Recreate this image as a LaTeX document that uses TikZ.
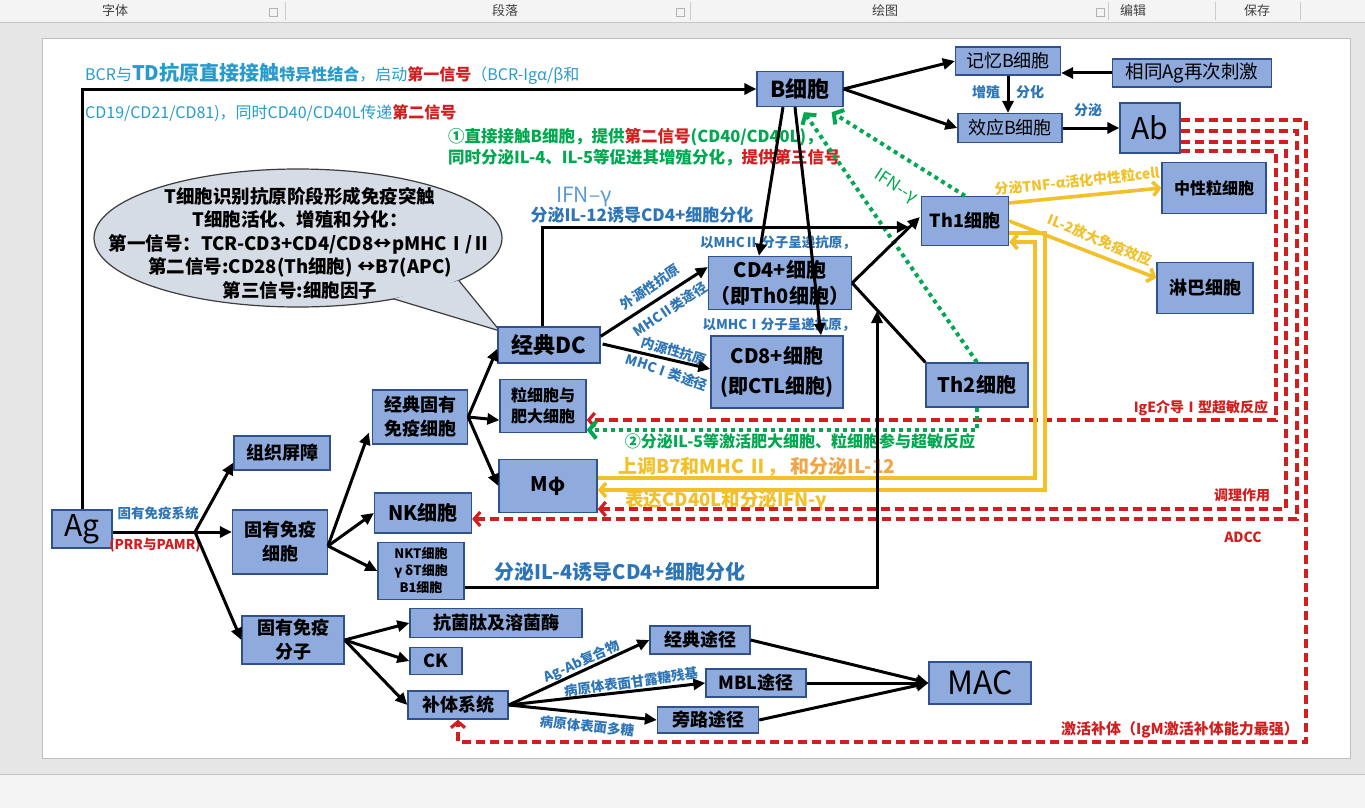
\documentclass[tikz,border=0pt]{standalone}
\usepackage{fontspec}
\setmainfont{Noto Sans CJK SC}
\usetikzlibrary{arrows.meta,shapes.geometric,calc}

\definecolor{cellfill}{RGB}{143,170,220}
\definecolor{cellline}{RGB}{47,82,143}
\definecolor{bubblefill}{RGB}{214,220,229}
\definecolor{bubbleline}{RGB}{60,60,60}
\definecolor{lblue}{RGB}{46,117,182}
\definecolor{skyblue}{RGB}{91,155,213}
\definecolor{cyanblue}{RGB}{40,155,205}
\definecolor{sigred}{RGB}{210,30,30}
\definecolor{sigreen}{RGB}{0,168,80}
\definecolor{gold}{RGB}{242,192,40}
\definecolor{amber}{RGB}{240,165,70}
\definecolor{uigray}{RGB}{230,230,230}
\definecolor{uibar}{RGB}{244,244,244}

\newcommand\fsz[2]{\fontsize{#1}{#2}\selectfont}

\tikzset{
  cell/.style={draw=cellline, fill=cellfill, line width=1.3pt, inner sep=0pt,
    align=center, font=\bfseries\fsz{18}{24}},
  link/.style={line width=3pt, -{Triangle[length=12pt,width=11pt]}},
  bar/.style={line width=3pt},
  yarrow/.style={draw=gold, line width=3.6pt, -{Straight Barb[length=6pt,width=14pt]}},
  rarrow/.style={draw=sigred, line width=3.2pt, dash pattern=on 9pt off 5pt,
    -{Straight Barb[length=6pt,width=14pt]}},
  garrow/.style={draw=sigreen, line width=4pt, dash pattern=on 4pt off 4pt,
    -{Straight Barb[length=7pt,width=17pt]}},
  bluetag/.style={text=lblue, font=\bfseries\fsz{13.5}{16}, inner sep=0pt},
  redtag/.style={text=sigred, font=\bfseries\fsz{14}{16}, inner sep=0pt},
  greentag/.style={text=sigreen, font=\bfseries\fsz{16.5}{20}, inner sep=0pt},
  goldtag/.style={text=gold, font=\bfseries\fsz{14}{16}, inner sep=0pt},
}

\begin{document}
\begin{tikzpicture}[x=1pt,y=-1pt]
\useasboundingbox (0,0) rectangle (1365,808);
% window around the slide
\fill[uigray] (0,0) rectangle (1365,808);
\fill[uibar] (0,0) rectangle (1365,22);
\draw[gray!45] (0,22) -- (1365,22);
\fill[uibar] (0,774) rectangle (1365,808);
\draw[gray!45] (0,774) -- (1365,774);
\foreach \xs in {285,690,1108,1215,1300} \draw[gray!40] (\xs,2) -- (\xs,20);
\foreach \xs in {273,680,1100} \draw[gray!60, line width=0.6pt] (\xs-4,8) rectangle (\xs+4,16);
\foreach \xs/\word in {115/字体,505/段落,885/绘图,1133/编辑,1257/保存}
  \node[font=\fsz{13}{14}, text=black!75] (tab\xs) at (\xs,11) {\word};
\filldraw[fill=white, draw=gray!50] (42,38) rectangle (1350,758);

% callout
\node[ellipse, draw=bubbleline, fill=bubblefill, line width=1.2pt,
  minimum width=408pt, minimum height=138pt] (callout) at (298,238) {};
\coordinate (tailA) at (458.8,280.5);
\coordinate (tailB) at (393.8,298.9);
\coordinate (tailtip) at (500,331);
\fill[bubblefill] (tailA) -- (tailtip) -- (tailB) -- cycle;
\draw[bubbleline, line width=1.2pt] (tailA) -- (tailtip) -- (tailB);
\node[align=center, font=\bfseries\fsz{18.5}{23.5}] (calltext) at (300,243)
  {T细胞识别抗原阶段形成免疫突触\\T细胞活化、增殖和分化：\\第一信号：TCR-CD3+CD4/CD8↔pMHCⅠ/Ⅱ\\第二信号:CD28(Th细胞) ↔B7(APC)\\第三信号:细胞因子};

% boxes
\node[cell, minimum width=60pt, minimum height=38pt, font=\fsz{30}{30}] (ag) at (82,529) {Ag};
\node[cell, minimum width=96pt, minimum height=34pt] (barrier) at (282,453) {组织屏障};
\node[cell, minimum width=95pt, minimum height=64pt] (innatecell) at (280,542) {固有免疫\\细胞};
\node[cell, minimum width=102pt, minimum height=48pt] (innatemol) at (293,640) {固有免疫\\分子};
\node[cell, minimum width=95pt, minimum height=54pt] (classic) at (420,417) {经典固有\\免疫细胞};
\node[cell, minimum width=97pt, minimum height=40pt, font=\bfseries\fsz{20}{24}] (nk) at (423,513) {NK细胞};
\node[cell, minimum width=86pt, minimum height=57pt, font=\bfseries\fsz{13}{17}] (nkt) at (421,571) {NKT细胞\\γ δT细胞\\B1细胞};
\node[cell, minimum width=102pt, minimum height=36pt, font=\bfseries\fsz{22}{24}] (dc) at (549,345) {经典DC};
\node[cell, minimum width=86pt, minimum height=53pt, font=\bfseries\fsz{16}{21}] (gran) at (543,406) {粒细胞与\\肥大细胞};
\node[cell, minimum width=98pt, minimum height=53pt, font=\bfseries\fsz{20}{24}] (mphi) at (548,486) {Mφ};
\node[cell, minimum width=143pt, minimum height=53pt, font=\bfseries\fsz{20}{26}] (cd4) at (780,283) {CD4+细胞\\（即Th0细胞）};
\node[cell, minimum width=132pt, minimum height=72pt, font=\bfseries\fsz{20}{30}] (cd8) at (777,372) {CD8+细胞\\(即CTL细胞)};
\node[cell, minimum width=87pt, minimum height=49pt] (th1) at (965,221) {Th1细胞};
\node[cell, minimum width=102pt, minimum height=44pt, font=\bfseries\fsz{20}{24}] (th2) at (977,385) {Th2细胞};
\node[cell, minimum width=86pt, minimum height=35pt, font=\bfseries\fsz{22}{24}] (bcell) at (800,89) {B细胞};
\node[cell, minimum width=105pt, minimum height=28pt, font=\fsz{18}{20}] (memb) at (1008,61) {记忆B细胞};
\node[cell, minimum width=104pt, minimum height=29pt, font=\fsz{18}{20}] (effb) at (1010,128) {效应B细胞};
\node[cell, minimum width=159pt, minimum height=28pt, font=\fsz{18.5}{20}] (same) at (1192,73) {相同Ag再次刺激};
\node[cell, minimum width=60pt, minimum height=50pt, font=\fsz{30}{30}] (ab) at (1150,128) {Ab};
\node[cell, minimum width=104pt, minimum height=51pt, font=\bfseries\fsz{16}{20}] (neut) at (1214,188) {中性粒细胞};
\node[cell, minimum width=96pt, minimum height=51pt] (lymph) at (1205,288) {淋巴细胞};
\node[cell, minimum width=172pt, minimum height=29pt] (amp) at (496,623) {抗菌肽及溶菌酶};
\node[cell, minimum width=52pt, minimum height=27pt] (ck) at (436,661) {CK};
\node[cell, minimum width=100pt, minimum height=28pt] (comp) at (458,705) {补体系统};
\node[cell, minimum width=100pt, minimum height=28pt] (cpath) at (700,640) {经典途径};
\node[cell, minimum width=100pt, minimum height=28pt] (mbl) at (756,683) {MBL途径};
\node[cell, minimum width=101pt, minimum height=26pt] (alt) at (708,720) {旁路途径};
\node[cell, minimum width=102pt, minimum height=42pt, font=\fsz{32}{32}] (mac) at (980,683) {MAC};

% labels
\node[anchor=west, text=cyanblue, font=\fsz{16}{18}, inner sep=0pt] (bcrline1) at (85,74)
  {BCR与{\bfseries\fsz{20}{22}TD抗原直接接触}{\bfseries 特异性结合}，启动{\color{sigred}\bfseries 第一信号}（BCR-Igα/β和};
\node[anchor=west, text=cyanblue, font=\fsz{16}{18}, inner sep=0pt] (bcrline2) at (85,113)
  {CD19/CD21/CD81)，同时CD40/CD40L传递{\color{sigred}\bfseries 第二信号}};
\node[greentag, anchor=west] (thhelp1) at (448,137)
  {①直接接触B细胞，提供{\color{sigred}第二信号}(CD40/CD40L)，};
\node[greentag, anchor=west] (thhelp2) at (448,158)
  {同时分泌IL-4、IL-5等促进其增殖分化，{\color{sigred}提供第三信号}};
\node[text=skyblue, font=\fsz{21}{22}, inner sep=0pt] (ifnsky) at (584,197) {IFN–γ};
\node[bluetag, font=\bfseries\fsz{17}{20}] (il12) at (642,215) {分泌IL-12诱导CD4+细胞分化};
\node[bluetag] (mhc2note) at (778,243) {以MHCⅡ 分子呈递抗原，};
\node[bluetag] (mhc1note) at (779,325) {以MHCⅠ分子呈递抗原，};
\node[bluetag, rotate=34] (exo) at (650,287) {外源性抗原};
\node[bluetag, rotate=34] (exopath) at (670,309) {MHCⅡ类途径};
\node[bluetag, rotate=-17] (endo) at (674,351) {内源性抗原};
\node[bluetag, rotate=-19] (endopath) at (667,372) {MHCⅠ类途径};
\node[bluetag] (innatesys) at (158,513) {固有免疫系统};
\node[redtag, font=\bfseries\fsz{13.5}{16}] (prr) at (155,545) {(PRR与PAMR)};
\node[bluetag, font=\bfseries\fsz{14}{16}] (prolif) at (986,92) {增殖};
\node[bluetag, font=\bfseries\fsz{14}{16}] (differ) at (1030,92) {分化};
\node[bluetag, font=\bfseries\fsz{14}{16}] (secrete) at (1088,110) {分泌};
\node[bluetag, font=\bfseries\fsz{20}{22}] (il4) at (620,572) {分泌IL-4诱导CD4+细胞分化};
\node[bluetag, rotate=24] (agab) at (582,662) {Ag-Ab复合物};
\node[bluetag, rotate=8] (mannose) at (631,682) {病原体表面甘露糖残基};
\node[bluetag, rotate=-6] (polysac) at (587,726) {病原体表面多糖};
\node[goldtag, rotate=6] (tnf) at (1077,181) {分泌TNF-α活化中性粒cell};
\node[goldtag, rotate=-22.5] (il2) at (1100,240) {IL-2放大免疫效应};
\node[goldtag, anchor=west, font=\bfseries\fsz{19}{20}] (upreg) at (618,467)
  {上调B7和MHC Ⅱ，\ {\color{amber}和分泌IL-12}};
\node[goldtag, anchor=west, font=\bfseries\fsz{18.5}{20}] (cd40l) at (625,500) {表达CD40L和分泌IFN-γ};
\node[greentag, font=\bfseries\fsz{16}{20}] (il5note) at (800,441) {②分泌IL-5等激活肥大细胞、粒细胞参与超敏反应};
\node[text=sigreen, font=\fsz{17}{20}, inner sep=0pt, rotate=-33] (ifngreen) at (896,187) {IFN-{}-γ};
\node[redtag] (igenote) at (1201,408) {IgE介导Ⅰ型超敏反应};
\node[redtag] (opsonote) at (1242,495) {调理作用};
\node[redtag] (adccnote) at (1243,537) {ADCC};
\node[redtag, font=\bfseries\fsz{15}{18}] (complnote) at (1180,730) {激活补体（IgM激活补体能力最强）};

% bends
\coordinate (fork1) at (195,532);
\coordinate (fork2) at (328,546);
\coordinate (dcbend) at (542,227);
\coordinate (il4bend) at (877,587);
\coordinate (il4tip) at (877,311);
\coordinate (yin) at (1035,478);
\coordinate (yout) at (1045,490);
\coordinate (ige) at (1276,420);
\coordinate (opso) at (1286,509);
\coordinate (adcc) at (1297,519);
\coordinate (compl) at (1306,742);
\coordinate (il5bend) at (977,430);

% antibody effects
\draw[rarrow] ($(ab.east)+(0,23)$) -| (ige) -- (ige -| gran.east);
\draw[rarrow] ($(ab.east)+(0,14)$) -| (opso) -- (opso -| mphi.east);
\draw[rarrow] ($(ab.east)+(0,3)$) -| (adcc) -- (adcc -| nk.east);
\draw[rarrow] ($(ab.east)+(0,-8)$) -| (compl) -| (comp.south);

% Th1 help
\draw[yarrow] ($(th1.east)+(0,-18)$) -- (neut.west);
\draw[yarrow] (th1.east) -- ($(lymph.west)+(0,-10)$);
\draw[yarrow] (yin -| mphi.east) -- (yin) |- ($(th1.east)+(0,21)$);
\draw[yarrow] ($(th1.east)+(0,12)$) -| (yout) -- (yout -| mphi.east);

% Th2 help
\draw[garrow] (th2.north) -- ($(bcell.south)+(4,5)$);
\draw[garrow] (th1.north) -- ($(bcell.south east)+(-12,5)$);
\draw[garrow] (th2.south) -- (il5bend) -- (il5bend -| gran.east);

% main paths
\draw[link] (ag.north) |- (bcell.west);
\draw[bar] (ag.east |- fork1) -- (fork1);
\draw[link] (fork1) -- ($(barrier.south west)+(0,-8)$);
\draw[link] (fork1) -- (innatecell.west |- fork1);
\draw[link] (fork1) -- (innatemol.west);
\draw[link] (fork2) -- ($(classic.south west)+(-3,-12)$);
\draw[link] (fork2) -- (nk.west);
\draw[link] (fork2) -- (nkt.west);
\draw[link] (classic.east) -- ($(dc.south west)+(0,-15)$);
\draw[link] (classic.east) -- ($(gran.south west)+(0,-13)$);
\draw[link] (classic.east) -- (mphi.west);
\draw[link] ($(dc.north east)+(0,10)$) -- ($(cd4.west)+(0,-16)$);
\draw[link] ($(dc.east)+(2,-1)$) -- ($(cd8.west)+(0,-3)$);
\draw[link] (dc.north -| dcbend) -- (dcbend) -- ($(th1.west)+(-12,6)$);
\draw[link] (cd4.east) -- ($(th1.west)+(-1,-4)$);
\draw[bar] (cd4.east) -- (th2.north west);
\draw[link] ($(bcell.south)+(-17,0)$) -- ($(cd4.north)+(-21,0)$);
\draw[link] ($(bcell.south)+(-5,0)$) -- ($(cd8.north)+(44,0)$);
\draw[link] (bcell.east) -- (memb.west);
\draw[link] (bcell.east) -- (effb.west);
\draw[link] (memb.south) -- (memb.south |- effb.north);
\draw[link] (same.west) -- (same.west -| memb.east);
\draw[link] (effb.east) -- (ab.west);
\draw[link] (nkt.east |- il4bend) -- (il4bend) -- (il4tip);
\draw[link] (innatemol.east) -- (amp.west);
\draw[link] (innatemol.east) -- (ck.west);
\draw[link] (innatemol.east) -- (comp.west);
\draw[link] (comp.east) -- (cpath.west);
\draw[link] (comp.east) -- (mbl.west);
\draw[link] (comp.east) -- (alt.west);
\draw[link] (cpath.east) -- (mac.west);
\draw[link] (mbl.east) -- (mac.west);
\draw[link] (alt.east) -- (mac.west);
\end{tikzpicture}
\end{document}
